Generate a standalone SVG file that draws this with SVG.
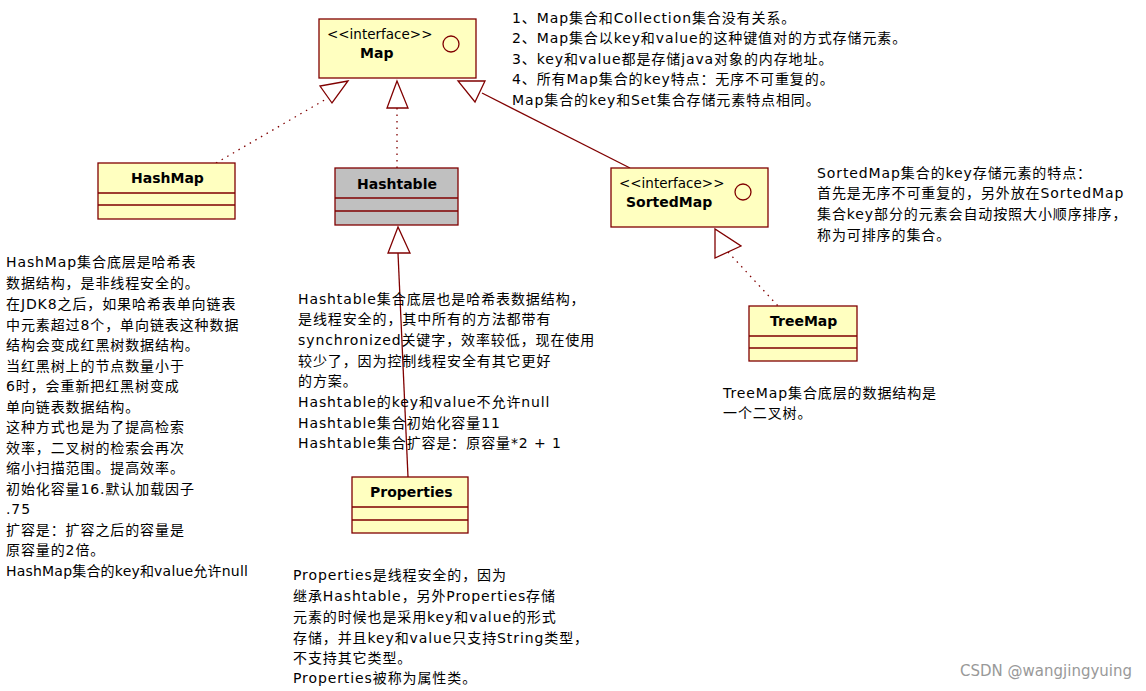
<svg xmlns="http://www.w3.org/2000/svg" width="1146" height="691" viewBox="0 0 1146 691">
<style>
.b{fill:#ffffc0;stroke:#800000;stroke-width:1.3}
.g{fill:#c0c0c0;stroke:#800000;stroke-width:1.3}
.l{stroke:#800000;stroke-width:1.3;fill:none}
.d{stroke:#800000;stroke-width:1.3;fill:none;stroke-dasharray:1.5 5}
.t{fill:#fff;stroke:#800000;stroke-width:1.3}
text{font-family:"DejaVu Sans","Noto Sans CJK SC",sans-serif;font-size:13.5px;fill:#000}
.n{font-weight:bold;font-size:14px}
.x{font-size:14px;letter-spacing:0.9px}
</style>
<rect width="1146" height="691" fill="#fff"/>
<g id="connectors">
<path class="d" d="M216 163L333 95"/>
<polygon class="t" points="348,81 320,86 332,103"/>
<path class="d" d="M397 108L397 168"/>
<polygon class="t" points="397,81 387,108 408,108"/>
<path class="l" d="M482 93L630 168"/>
<polygon class="t" points="458,81 485,81 475,102"/>
<path class="l" d="M398 253L408 477"/>
<polygon class="t" points="398,227 388,253 410,253"/>
<path class="d" d="M728 252L778 306"/>
<polygon class="t" points="715,229 715,258 741,246"/>
</g>
<g id="Map"><rect class="b" x="319" y="19" width="157" height="59"/><text x="327" y="39">&lt;&lt;interface&gt;&gt;</text><text class="n" x="360" y="58">Map</text><circle class="l" cx="451" cy="44" r="8"/></g>
<g id="HashMap"><rect class="b" x="98" y="163" width="137" height="56"/><path class="l" d="M98 193H235M98 205H235"/><text class="n" x="131" y="183">HashMap</text></g>
<g id="Hashtable"><rect class="g" x="335" y="168" width="123" height="57"/><path class="l" d="M335 198H458M335 211H458"/><text class="n" x="357" y="189">Hashtable</text></g>
<g id="SortedMap"><rect class="b" x="611" y="168" width="157" height="59"/><text x="619" y="188">&lt;&lt;interface&gt;&gt;</text><text class="n" x="626" y="207">SortedMap</text><circle class="l" cx="743" cy="192" r="8"/></g>
<g id="TreeMap"><rect class="b" x="749" y="306" width="108" height="55"/><path class="l" d="M749 336H857M749 348H857"/><text class="n" x="770" y="326">TreeMap</text></g>
<g id="Properties"><rect class="b" x="352" y="477" width="116" height="56"/><path class="l" d="M352 507H468M352 520H468"/><text class="n" x="370" y="497">Properties</text></g>
<g id="notes">
<text class="x"><tspan x="512" y="23">1、Map集合和Collection集合没有关系。</tspan><tspan x="512" y="43">2、Map集合以key和value的这种键值对的方式存储元素。</tspan><tspan x="512" y="64">3、key和value都是存储java对象的内存地址。</tspan><tspan x="512" y="84">4、所有Map集合的key特点：无序不可重复的。</tspan><tspan x="512" y="105">Map集合的key和Set集合存储元素特点相同。</tspan></text>
<text class="x"><tspan x="817" y="178">SortedMap集合的key存储元素的特点：</tspan><tspan x="817" y="198">首先是无序不可重复的，另外放在SortedMap</tspan><tspan x="817" y="219">集合key部分的元素会自动按照大小顺序排序，</tspan><tspan x="817" y="240">称为可排序的集合。</tspan></text>
<text class="x"><tspan x="723" y="398">TreeMap集合底层的数据结构是</tspan><tspan x="723" y="418">一个二叉树。</tspan></text>
<text class="x"><tspan x="6" y="267">HashMap集合底层是哈希表</tspan><tspan x="6" y="288">数据结构，是非线程安全的。</tspan><tspan x="6" y="309">在JDK8之后，如果哈希表单向链表</tspan><tspan x="6" y="330">中元素超过8个，单向链表这种数据</tspan><tspan x="6" y="350">结构会变成红黑树数据结构。</tspan><tspan x="6" y="371">当红黑树上的节点数量小于</tspan><tspan x="6" y="391">6时，会重新把红黑树变成</tspan><tspan x="6" y="412">单向链表数据结构。</tspan><tspan x="6" y="432">这种方式也是为了提高检索</tspan><tspan x="6" y="453">效率，二叉树的检索会再次</tspan><tspan x="6" y="473">缩小扫描范围。提高效率。</tspan><tspan x="6" y="494">初始化容量16.默认加载因子</tspan><tspan x="6" y="514">.75</tspan><tspan x="6" y="535">扩容是：扩容之后的容量是</tspan><tspan x="6" y="555">原容量的2倍。</tspan><tspan x="6" y="576" style="letter-spacing:0.2px">HashMap集合的key和value允许null</tspan></text>
<text class="x"><tspan x="298" y="304">Hashtable集合底层也是哈希表数据结构，</tspan><tspan x="298" y="324">是线程安全的，其中所有的方法都带有</tspan><tspan x="298" y="345">synchronized关键字，效率较低，现在使用</tspan><tspan x="298" y="366">较少了，因为控制线程安全有其它更好</tspan><tspan x="298" y="386">的方案。</tspan><tspan x="298" y="407">Hashtable的key和value不允许null</tspan><tspan x="298" y="428">Hashtable集合初始化容量11</tspan><tspan x="298" y="448">Hashtable集合扩容是：原容量*2 + 1</tspan></text>
<text class="x"><tspan x="293" y="580">Properties是线程安全的，因为</tspan><tspan x="293" y="601">继承Hashtable，另外Properties存储</tspan><tspan x="293" y="622">元素的时候也是采用key和value的形式</tspan><tspan x="293" y="643">存储，并且key和value只支持String类型，</tspan><tspan x="293" y="663">不支持其它类型。</tspan><tspan x="293" y="683">Properties被称为属性类。</tspan></text>
<text x="1132" y="676" text-anchor="end" style="font-size:15px;fill:#999">CSDN @wangjingyuing</text>
</g>
</svg>
